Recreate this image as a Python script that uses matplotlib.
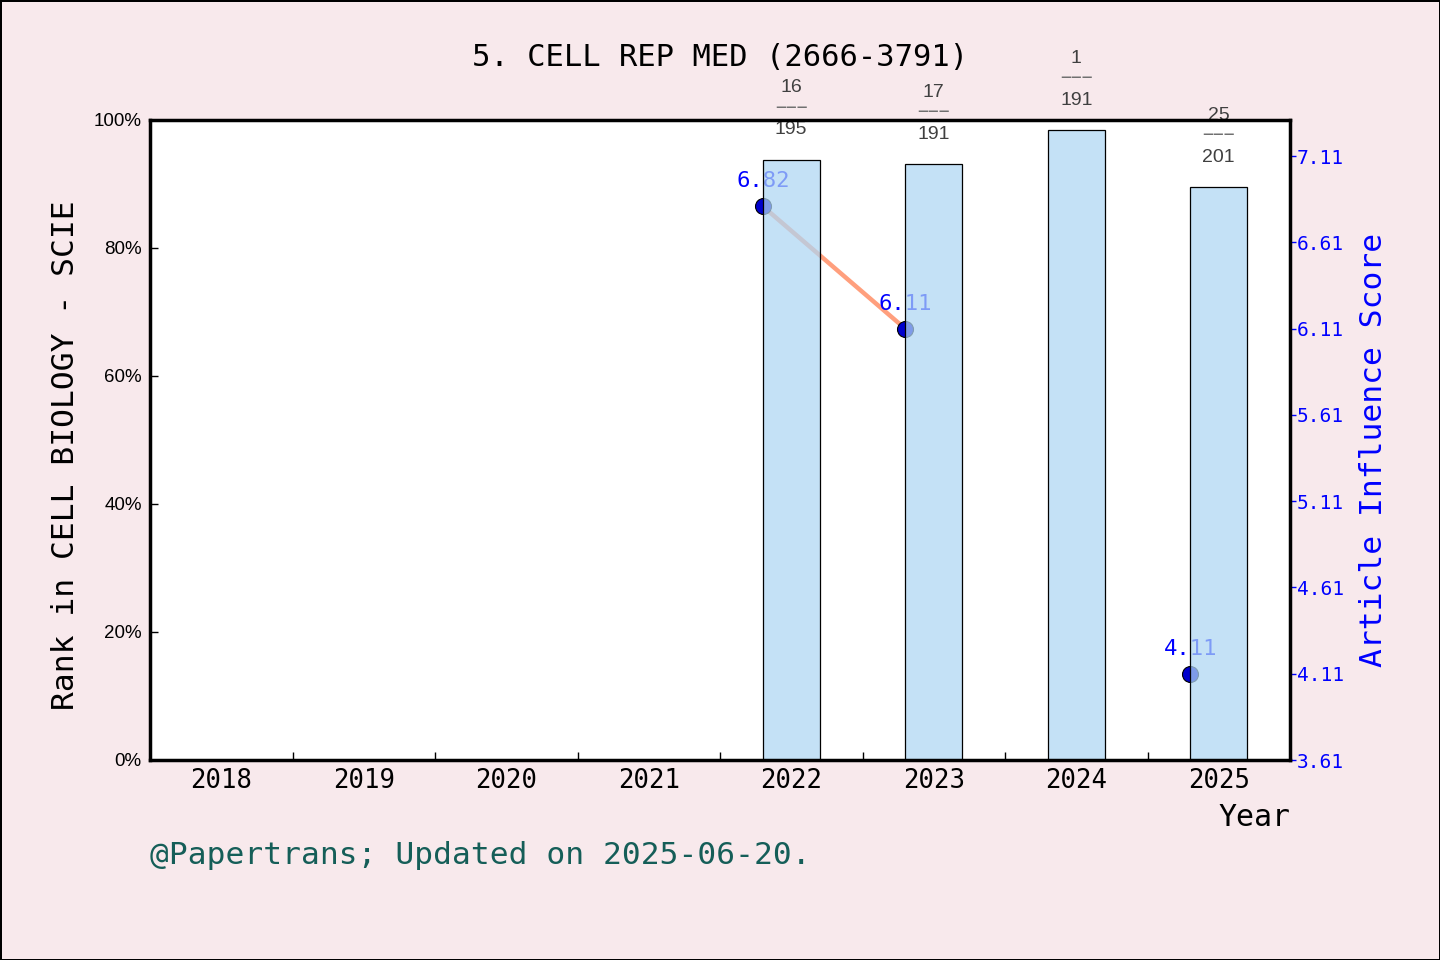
import numpy as np
import matplotlib
matplotlib.use("Agg")
import matplotlib.pyplot as plt

# ---- data ----
years = ["2018", "2019", "2020", "2021", "2022", "2023", "2024", "2025"]
rank_pct = [np.nan, np.nan, np.nan, np.nan, 93.8, 93.1, 98.4, 89.5]
rank_num = [None, None, None, None, "16", "17", "1", "25"]
rank_den = [None, None, None, None, "195", "191", "191", "201"]
ais = [np.nan, np.nan, np.nan, np.nan, 6.82, 6.11, np.nan, 4.11]
left_ticks = [0, 20, 40, 60, 80, 100]
title = "5. CELL REP MED (2666-3791)"
footer = "@Papertrans; Updated on 2025-06-20."

W, H = 1440, 960
fig = plt.figure(figsize=(14.4, 9.6), dpi=100)
fig.patch.set_facecolor("#f8e9ec")
fig.patch.set_edgecolor("black")
fig.patch.set_linewidth(2)

L, R, T, B = 150, 1290, 120, 760
ax = fig.add_axes([L / W, 1 - B / H, (R - L) / W, (B - T) / H])
ax2 = ax.twinx()
ax.set_zorder(2)
ax2.set_zorder(1)
ax.patch.set_visible(False)
ax2.patch.set_visible(True)
ax2.patch.set_facecolor("white")

x = np.arange(len(years))
mono = "DejaVu Sans Mono"
prop = "Liberation Sans"

# bars (left axis), semi-transparent so the line/markers show through
bar_w = 0.4
ax.bar(x, rank_pct, width=bar_w, color=(174/255, 214/255, 244/255, 0.73),
       edgecolor="black", linewidth=0.9)
ax.set_ylim(0, 100)
ax.set_xlim(-0.5, len(years) - 0.5)
ax.set_yticks(left_ticks)
ax.set_yticklabels([f"{v}%" for v in left_ticks], fontfamily=prop, fontsize=13.5)
ax.tick_params(axis="y", direction="in", length=6, width=1, pad=6)
ax.set_xticks(x)
ax.set_xticklabels(years, fontfamily=mono, fontsize=18.5)
ax.tick_params(axis="x", length=0, pad=6)
ax.set_xticks(x[:-1] + 0.5, minor=True)
ax.tick_params(axis="x", which="minor", direction="in", length=6, width=1)
for s in ax.spines.values():
    s.set_linewidth(2.5)
    s.set_zorder(10)

# rank fractions above bars
for i in range(len(years)):
    if rank_num[i] is None:
        continue
    h = rank_pct[i]
    ax.annotate(rank_den[i], (x[i], h), xytext=(0, 30), textcoords="offset pixels",
                ha="center", va="center", fontfamily=prop, fontsize=14, color="#404040")
    ax.annotate("\u2212\u2212\u2212", (x[i], h), xytext=(0, 52), textcoords="offset pixels",
                ha="center", va="center", fontfamily=mono, fontsize=13, color="#707070")
    ax.annotate(rank_num[i], (x[i], h), xytext=(0, 72), textcoords="offset pixels",
                ha="center", va="center", fontfamily=prop, fontsize=14, color="#404040")

# article influence score (right axis)
ais_arr = np.array(ais, dtype=float)
ax2.plot(x - bar_w / 2, ais_arr, color="#ff9f7d", linewidth=3.2, marker="o",
         markersize=11.5, markerfacecolor="#0000cd", markeredgecolor="black",
         markeredgewidth=0.8, zorder=3)
valid = ~np.isnan(ais_arr)
ymin = np.nanmin(ais_arr) - 0.5
ymax = np.nanmax(ais_arr) + 0.5
ax2.set_ylim(ymin, ymax)
rt = np.arange(ymin, ymax + 1e-9, 0.5)
ax2.set_yticks(rt)
ax2.set_yticklabels([f"{v:.2f}" for v in rt], fontfamily=mono, fontsize=14, color="blue")
ax2.tick_params(axis="y", direction="out", length=4, width=1, color="blue", pad=1)
for xi, v in zip(x[valid], ais_arr[valid]):
    ax2.annotate(f"{v:.2f}", (xi - bar_w / 2, v), xytext=(0, 25), textcoords="offset pixels",
                 ha="center", va="center", fontfamily=mono, fontsize=16, color="blue")
for s in ax2.spines.values():
    s.set_visible(False)

# texts
fig.text(0.5, 1 - 57 / H, title, ha="center", va="center", fontfamily=mono, fontsize=22)
fig.text(66 / W, 1 - 455 / H, "Rank in CELL BIOLOGY - SCIE", rotation=90,
         ha="center", va="center", fontfamily=mono, fontsize=22.5)
fig.text(1373 / W, 1 - 450 / H, "Article Influence Score", rotation=90,
         ha="center", va="center", fontfamily=mono, fontsize=22.5, color="blue")
fig.text(R / W, 1 - 817 / H, "Year", ha="right", va="center", fontfamily=mono, fontsize=21.5)
fig.text(L / W, 1 - 855 / H, footer, ha="left", va="center", fontfamily=mono,
         fontsize=22.5, color="#155e58")

fig.savefig("out.png", dpi=100, facecolor=fig.get_facecolor(), edgecolor=fig.get_edgecolor())
